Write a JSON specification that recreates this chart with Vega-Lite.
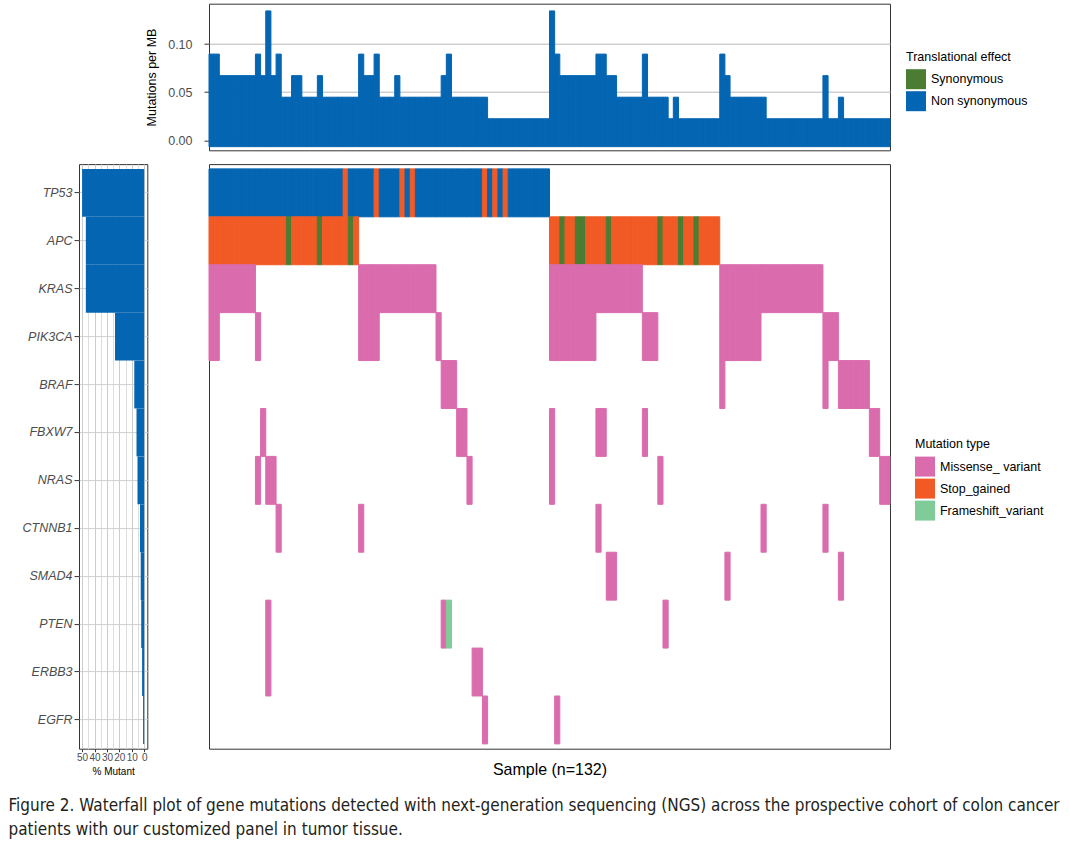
{
"$schema": "https://vega.github.io/schema/vega-lite/v6.json",
"padding": {"left": 8, "top": 2.7, "right": 5, "bottom": 5},
"config": {
  "font": "Liberation Sans",
  "view": {"stroke": "#333333", "strokeWidth": 1},
  "axis": {"labelColor": "#4d4d4d", "titleColor": "#000000", "tickColor": "#333333", "domain": false, "titleFontWeight": "normal"},
  "legend": {"symbolType": "square", "symbolSize": 400, "symbolStrokeWidth": 0, "titleFontSize": 12.5, "titleFontWeight": "normal", "labelFontSize": 12.5, "rowPadding": 2, "labelOffset": 5, "titlePadding": 6, "titleColor": "#000000", "labelColor": "#000000"}
},
"title": {
  "text": ["Figure 2. Waterfall plot of gene mutations detected with next-generation sequencing (NGS) across the prospective cohort of colon cancer", "patients with our customized panel in tumor tissue."],
  "orient": "bottom", "anchor": "start", "frame": "bounds",
  "font": "'Liberation Sans Narrow', 'DejaVu Sans Condensed', sans-serif",
  "fontSize": 17, "fontWeight": "normal", "lineHeight": 24, "offset": 20, "dx": -13, "color": "#231f20"
},
"datasets": {
  "burden": [
    {"s":1,"v":0.0896,"e":"Non synonymous"},{"s":2,"v":0.0896,"e":"Non synonymous"},{"s":3,"v":0.0672,"e":"Non synonymous"},{"s":4,"v":0.0672,"e":"Non synonymous"},
    {"s":5,"v":0.0672,"e":"Non synonymous"},{"s":6,"v":0.0672,"e":"Non synonymous"},{"s":7,"v":0.0672,"e":"Non synonymous"},{"s":8,"v":0.0672,"e":"Non synonymous"},
    {"s":9,"v":0.0672,"e":"Non synonymous"},{"s":10,"v":0.0896,"e":"Non synonymous"},{"s":11,"v":0.0672,"e":"Non synonymous"},{"s":12,"v":0.1345,"e":"Non synonymous"},
    {"s":13,"v":0.0672,"e":"Non synonymous"},{"s":14,"v":0.0896,"e":"Non synonymous"},{"s":15,"v":0.0448,"e":"Non synonymous"},{"s":16,"v":0.0448,"e":"Non synonymous"},
    {"s":17,"v":0.0672,"e":"Non synonymous"},{"s":18,"v":0.0672,"e":"Non synonymous"},{"s":19,"v":0.0448,"e":"Non synonymous"},{"s":20,"v":0.0448,"e":"Non synonymous"},
    {"s":21,"v":0.0448,"e":"Non synonymous"},{"s":22,"v":0.0672,"e":"Non synonymous"},{"s":23,"v":0.0448,"e":"Non synonymous"},{"s":24,"v":0.0448,"e":"Non synonymous"},
    {"s":25,"v":0.0448,"e":"Non synonymous"},{"s":26,"v":0.0448,"e":"Non synonymous"},{"s":27,"v":0.0448,"e":"Non synonymous"},{"s":28,"v":0.0448,"e":"Non synonymous"},
    {"s":29,"v":0.0448,"e":"Non synonymous"},{"s":30,"v":0.0896,"e":"Non synonymous"},{"s":31,"v":0.0672,"e":"Non synonymous"},{"s":32,"v":0.0672,"e":"Non synonymous"},
    {"s":33,"v":0.0896,"e":"Non synonymous"},{"s":34,"v":0.0448,"e":"Non synonymous"},{"s":35,"v":0.0448,"e":"Non synonymous"},{"s":36,"v":0.0448,"e":"Non synonymous"},
    {"s":37,"v":0.0672,"e":"Non synonymous"},{"s":38,"v":0.0448,"e":"Non synonymous"},{"s":39,"v":0.0448,"e":"Non synonymous"},{"s":40,"v":0.0448,"e":"Non synonymous"},
    {"s":41,"v":0.0448,"e":"Non synonymous"},{"s":42,"v":0.0448,"e":"Non synonymous"},{"s":43,"v":0.0448,"e":"Non synonymous"},{"s":44,"v":0.0448,"e":"Non synonymous"},
    {"s":45,"v":0.0448,"e":"Non synonymous"},{"s":46,"v":0.0672,"e":"Non synonymous"},{"s":47,"v":0.0896,"e":"Non synonymous"},{"s":48,"v":0.0448,"e":"Non synonymous"},
    {"s":49,"v":0.0448,"e":"Non synonymous"},{"s":50,"v":0.0448,"e":"Non synonymous"},{"s":51,"v":0.0448,"e":"Non synonymous"},{"s":52,"v":0.0448,"e":"Non synonymous"},
    {"s":53,"v":0.0448,"e":"Non synonymous"},{"s":54,"v":0.0448,"e":"Non synonymous"},{"s":55,"v":0.0224,"e":"Non synonymous"},{"s":56,"v":0.0224,"e":"Non synonymous"},
    {"s":57,"v":0.0224,"e":"Non synonymous"},{"s":58,"v":0.0224,"e":"Non synonymous"},{"s":59,"v":0.0224,"e":"Non synonymous"},{"s":60,"v":0.0224,"e":"Non synonymous"},
    {"s":61,"v":0.0224,"e":"Non synonymous"},{"s":62,"v":0.0224,"e":"Non synonymous"},{"s":63,"v":0.0224,"e":"Non synonymous"},{"s":64,"v":0.0224,"e":"Non synonymous"},
    {"s":65,"v":0.0224,"e":"Non synonymous"},{"s":66,"v":0.0224,"e":"Non synonymous"},{"s":67,"v":0.1345,"e":"Non synonymous"},{"s":68,"v":0.0896,"e":"Non synonymous"},
    {"s":69,"v":0.0672,"e":"Non synonymous"},{"s":70,"v":0.0672,"e":"Non synonymous"},{"s":71,"v":0.0672,"e":"Non synonymous"},{"s":72,"v":0.0672,"e":"Non synonymous"},
    {"s":73,"v":0.0672,"e":"Non synonymous"},{"s":74,"v":0.0672,"e":"Non synonymous"},{"s":75,"v":0.0672,"e":"Non synonymous"},{"s":76,"v":0.0896,"e":"Non synonymous"},
    {"s":77,"v":0.0896,"e":"Non synonymous"},{"s":78,"v":0.0672,"e":"Non synonymous"},{"s":79,"v":0.0672,"e":"Non synonymous"},{"s":80,"v":0.0448,"e":"Non synonymous"},
    {"s":81,"v":0.0448,"e":"Non synonymous"},{"s":82,"v":0.0448,"e":"Non synonymous"},{"s":83,"v":0.0448,"e":"Non synonymous"},{"s":84,"v":0.0448,"e":"Non synonymous"},
    {"s":85,"v":0.0896,"e":"Non synonymous"},{"s":86,"v":0.0448,"e":"Non synonymous"},{"s":87,"v":0.0448,"e":"Non synonymous"},{"s":88,"v":0.0448,"e":"Non synonymous"},
    {"s":89,"v":0.0448,"e":"Non synonymous"},{"s":90,"v":0.0224,"e":"Non synonymous"},{"s":91,"v":0.0448,"e":"Non synonymous"},{"s":92,"v":0.0224,"e":"Non synonymous"},
    {"s":93,"v":0.0224,"e":"Non synonymous"},{"s":94,"v":0.0224,"e":"Non synonymous"},{"s":95,"v":0.0224,"e":"Non synonymous"},{"s":96,"v":0.0224,"e":"Non synonymous"},
    {"s":97,"v":0.0224,"e":"Non synonymous"},{"s":98,"v":0.0224,"e":"Non synonymous"},{"s":99,"v":0.0224,"e":"Non synonymous"},{"s":100,"v":0.0896,"e":"Non synonymous"},
    {"s":101,"v":0.0672,"e":"Non synonymous"},{"s":102,"v":0.0448,"e":"Non synonymous"},{"s":103,"v":0.0448,"e":"Non synonymous"},{"s":104,"v":0.0448,"e":"Non synonymous"},
    {"s":105,"v":0.0448,"e":"Non synonymous"},{"s":106,"v":0.0448,"e":"Non synonymous"},{"s":107,"v":0.0448,"e":"Non synonymous"},{"s":108,"v":0.0448,"e":"Non synonymous"},
    {"s":109,"v":0.0224,"e":"Non synonymous"},{"s":110,"v":0.0224,"e":"Non synonymous"},{"s":111,"v":0.0224,"e":"Non synonymous"},{"s":112,"v":0.0224,"e":"Non synonymous"},
    {"s":113,"v":0.0224,"e":"Non synonymous"},{"s":114,"v":0.0224,"e":"Non synonymous"},{"s":115,"v":0.0224,"e":"Non synonymous"},{"s":116,"v":0.0224,"e":"Non synonymous"},
    {"s":117,"v":0.0224,"e":"Non synonymous"},{"s":118,"v":0.0224,"e":"Non synonymous"},{"s":119,"v":0.0224,"e":"Non synonymous"},{"s":120,"v":0.0672,"e":"Non synonymous"},
    {"s":121,"v":0.0224,"e":"Non synonymous"},{"s":122,"v":0.0224,"e":"Non synonymous"},{"s":123,"v":0.0448,"e":"Non synonymous"},{"s":124,"v":0.0224,"e":"Non synonymous"},
    {"s":125,"v":0.0224,"e":"Non synonymous"},{"s":126,"v":0.0224,"e":"Non synonymous"},{"s":127,"v":0.0224,"e":"Non synonymous"},{"s":128,"v":0.0224,"e":"Non synonymous"},
    {"s":129,"v":0.0224,"e":"Non synonymous"},{"s":130,"v":0.0224,"e":"Non synonymous"},{"s":131,"v":0.0224,"e":"Non synonymous"},{"s":132,"v":0.0224,"e":"Non synonymous"}
  ],
  "pct": [
    {"g":"TP53","p":50.0},{"g":"APC","p":47.0},{"g":"KRAS","p":47.0},{"g":"PIK3CA","p":23.5},
    {"g":"BRAF","p":8.0},{"g":"FBXW7","p":6.2},{"g":"NRAS","p":5.4},{"g":"CTNNB1","p":3.4},
    {"g":"SMAD4","p":2.8},{"g":"PTEN","p":2.4},{"g":"ERBB3","p":1.7},{"g":"EGFR","p":0.9}
  ],
  "cells": [
    {"s":1,"g":"TP53","t":"Non synonymous"},{"s":2,"g":"TP53","t":"Non synonymous"},{"s":3,"g":"TP53","t":"Non synonymous"},{"s":4,"g":"TP53","t":"Non synonymous"},
    {"s":5,"g":"TP53","t":"Non synonymous"},{"s":6,"g":"TP53","t":"Non synonymous"},{"s":7,"g":"TP53","t":"Non synonymous"},{"s":8,"g":"TP53","t":"Non synonymous"},
    {"s":9,"g":"TP53","t":"Non synonymous"},{"s":10,"g":"TP53","t":"Non synonymous"},{"s":11,"g":"TP53","t":"Non synonymous"},{"s":12,"g":"TP53","t":"Non synonymous"},
    {"s":13,"g":"TP53","t":"Non synonymous"},{"s":14,"g":"TP53","t":"Non synonymous"},{"s":15,"g":"TP53","t":"Non synonymous"},{"s":16,"g":"TP53","t":"Non synonymous"},
    {"s":17,"g":"TP53","t":"Non synonymous"},{"s":18,"g":"TP53","t":"Non synonymous"},{"s":19,"g":"TP53","t":"Non synonymous"},{"s":20,"g":"TP53","t":"Non synonymous"},
    {"s":21,"g":"TP53","t":"Non synonymous"},{"s":22,"g":"TP53","t":"Non synonymous"},{"s":23,"g":"TP53","t":"Non synonymous"},{"s":24,"g":"TP53","t":"Non synonymous"},
    {"s":25,"g":"TP53","t":"Non synonymous"},{"s":26,"g":"TP53","t":"Non synonymous"},{"s":27,"g":"TP53","t":"Stop_gained"},{"s":28,"g":"TP53","t":"Non synonymous"},
    {"s":29,"g":"TP53","t":"Non synonymous"},{"s":30,"g":"TP53","t":"Non synonymous"},{"s":31,"g":"TP53","t":"Non synonymous"},{"s":32,"g":"TP53","t":"Non synonymous"},
    {"s":33,"g":"TP53","t":"Stop_gained"},{"s":34,"g":"TP53","t":"Non synonymous"},{"s":35,"g":"TP53","t":"Non synonymous"},{"s":36,"g":"TP53","t":"Non synonymous"},
    {"s":37,"g":"TP53","t":"Non synonymous"},{"s":38,"g":"TP53","t":"Stop_gained"},{"s":39,"g":"TP53","t":"Non synonymous"},{"s":40,"g":"TP53","t":"Stop_gained"},
    {"s":41,"g":"TP53","t":"Non synonymous"},{"s":42,"g":"TP53","t":"Non synonymous"},{"s":43,"g":"TP53","t":"Non synonymous"},{"s":44,"g":"TP53","t":"Non synonymous"},
    {"s":45,"g":"TP53","t":"Non synonymous"},{"s":46,"g":"TP53","t":"Non synonymous"},{"s":47,"g":"TP53","t":"Non synonymous"},{"s":48,"g":"TP53","t":"Non synonymous"},
    {"s":49,"g":"TP53","t":"Non synonymous"},{"s":50,"g":"TP53","t":"Non synonymous"},{"s":51,"g":"TP53","t":"Non synonymous"},{"s":52,"g":"TP53","t":"Non synonymous"},
    {"s":53,"g":"TP53","t":"Non synonymous"},{"s":54,"g":"TP53","t":"Stop_gained"},{"s":55,"g":"TP53","t":"Non synonymous"},{"s":56,"g":"TP53","t":"Stop_gained"},
    {"s":57,"g":"TP53","t":"Non synonymous"},{"s":58,"g":"TP53","t":"Stop_gained"},{"s":59,"g":"TP53","t":"Non synonymous"},{"s":60,"g":"TP53","t":"Non synonymous"},
    {"s":61,"g":"TP53","t":"Non synonymous"},{"s":62,"g":"TP53","t":"Non synonymous"},{"s":63,"g":"TP53","t":"Non synonymous"},{"s":64,"g":"TP53","t":"Non synonymous"},
    {"s":65,"g":"TP53","t":"Non synonymous"},{"s":66,"g":"TP53","t":"Non synonymous"},

    {"s":1,"g":"APC","t":"Stop_gained"},{"s":2,"g":"APC","t":"Stop_gained"},{"s":3,"g":"APC","t":"Stop_gained"},{"s":4,"g":"APC","t":"Stop_gained"},
    {"s":5,"g":"APC","t":"Stop_gained"},{"s":6,"g":"APC","t":"Stop_gained"},{"s":7,"g":"APC","t":"Stop_gained"},{"s":8,"g":"APC","t":"Stop_gained"},
    {"s":9,"g":"APC","t":"Stop_gained"},{"s":10,"g":"APC","t":"Stop_gained"},{"s":11,"g":"APC","t":"Stop_gained"},{"s":12,"g":"APC","t":"Stop_gained"},
    {"s":13,"g":"APC","t":"Stop_gained"},{"s":14,"g":"APC","t":"Stop_gained"},{"s":15,"g":"APC","t":"Stop_gained"},{"s":16,"g":"APC","t":"Synonymous"},
    {"s":17,"g":"APC","t":"Stop_gained"},{"s":18,"g":"APC","t":"Stop_gained"},{"s":19,"g":"APC","t":"Stop_gained"},{"s":20,"g":"APC","t":"Stop_gained"},
    {"s":21,"g":"APC","t":"Stop_gained"},{"s":22,"g":"APC","t":"Synonymous"},{"s":23,"g":"APC","t":"Stop_gained"},{"s":24,"g":"APC","t":"Stop_gained"},
    {"s":25,"g":"APC","t":"Stop_gained"},{"s":26,"g":"APC","t":"Stop_gained"},{"s":27,"g":"APC","t":"Stop_gained"},{"s":28,"g":"APC","t":"Synonymous"},
    {"s":29,"g":"APC","t":"Stop_gained"},
    {"s":67,"g":"APC","t":"Stop_gained"},{"s":68,"g":"APC","t":"Stop_gained"},{"s":69,"g":"APC","t":"Synonymous"},{"s":70,"g":"APC","t":"Stop_gained"},
    {"s":71,"g":"APC","t":"Stop_gained"},{"s":72,"g":"APC","t":"Synonymous"},{"s":73,"g":"APC","t":"Synonymous"},{"s":74,"g":"APC","t":"Stop_gained"},
    {"s":75,"g":"APC","t":"Stop_gained"},{"s":76,"g":"APC","t":"Stop_gained"},{"s":77,"g":"APC","t":"Stop_gained"},{"s":78,"g":"APC","t":"Synonymous"},
    {"s":79,"g":"APC","t":"Stop_gained"},{"s":80,"g":"APC","t":"Stop_gained"},{"s":81,"g":"APC","t":"Stop_gained"},{"s":82,"g":"APC","t":"Stop_gained"},
    {"s":83,"g":"APC","t":"Stop_gained"},{"s":84,"g":"APC","t":"Stop_gained"},{"s":85,"g":"APC","t":"Stop_gained"},{"s":86,"g":"APC","t":"Stop_gained"},
    {"s":87,"g":"APC","t":"Stop_gained"},{"s":88,"g":"APC","t":"Synonymous"},{"s":89,"g":"APC","t":"Stop_gained"},{"s":90,"g":"APC","t":"Stop_gained"},
    {"s":91,"g":"APC","t":"Stop_gained"},{"s":92,"g":"APC","t":"Synonymous"},{"s":93,"g":"APC","t":"Stop_gained"},{"s":94,"g":"APC","t":"Stop_gained"},
    {"s":95,"g":"APC","t":"Synonymous"},{"s":96,"g":"APC","t":"Stop_gained"},{"s":97,"g":"APC","t":"Stop_gained"},{"s":98,"g":"APC","t":"Stop_gained"},
    {"s":99,"g":"APC","t":"Stop_gained"},

    {"s":1,"g":"KRAS","t":"Missense_ variant"},{"s":2,"g":"KRAS","t":"Missense_ variant"},{"s":3,"g":"KRAS","t":"Missense_ variant"},{"s":4,"g":"KRAS","t":"Missense_ variant"},
    {"s":5,"g":"KRAS","t":"Missense_ variant"},{"s":6,"g":"KRAS","t":"Missense_ variant"},{"s":7,"g":"KRAS","t":"Missense_ variant"},{"s":8,"g":"KRAS","t":"Missense_ variant"},
    {"s":9,"g":"KRAS","t":"Missense_ variant"},
    {"s":30,"g":"KRAS","t":"Missense_ variant"},{"s":31,"g":"KRAS","t":"Missense_ variant"},{"s":32,"g":"KRAS","t":"Missense_ variant"},{"s":33,"g":"KRAS","t":"Missense_ variant"},
    {"s":34,"g":"KRAS","t":"Missense_ variant"},{"s":35,"g":"KRAS","t":"Missense_ variant"},{"s":36,"g":"KRAS","t":"Missense_ variant"},{"s":37,"g":"KRAS","t":"Missense_ variant"},
    {"s":38,"g":"KRAS","t":"Missense_ variant"},{"s":39,"g":"KRAS","t":"Missense_ variant"},{"s":40,"g":"KRAS","t":"Missense_ variant"},{"s":41,"g":"KRAS","t":"Missense_ variant"},
    {"s":42,"g":"KRAS","t":"Missense_ variant"},{"s":43,"g":"KRAS","t":"Missense_ variant"},{"s":44,"g":"KRAS","t":"Missense_ variant"},
    {"s":67,"g":"KRAS","t":"Missense_ variant"},{"s":68,"g":"KRAS","t":"Missense_ variant"},{"s":69,"g":"KRAS","t":"Missense_ variant"},{"s":70,"g":"KRAS","t":"Missense_ variant"},
    {"s":71,"g":"KRAS","t":"Missense_ variant"},{"s":72,"g":"KRAS","t":"Missense_ variant"},{"s":73,"g":"KRAS","t":"Missense_ variant"},{"s":74,"g":"KRAS","t":"Missense_ variant"},
    {"s":75,"g":"KRAS","t":"Missense_ variant"},{"s":76,"g":"KRAS","t":"Missense_ variant"},{"s":77,"g":"KRAS","t":"Missense_ variant"},{"s":78,"g":"KRAS","t":"Missense_ variant"},
    {"s":79,"g":"KRAS","t":"Missense_ variant"},{"s":80,"g":"KRAS","t":"Missense_ variant"},{"s":81,"g":"KRAS","t":"Missense_ variant"},{"s":82,"g":"KRAS","t":"Missense_ variant"},
    {"s":83,"g":"KRAS","t":"Missense_ variant"},{"s":84,"g":"KRAS","t":"Missense_ variant"},
    {"s":100,"g":"KRAS","t":"Missense_ variant"},{"s":101,"g":"KRAS","t":"Missense_ variant"},{"s":102,"g":"KRAS","t":"Missense_ variant"},{"s":103,"g":"KRAS","t":"Missense_ variant"},
    {"s":104,"g":"KRAS","t":"Missense_ variant"},{"s":105,"g":"KRAS","t":"Missense_ variant"},{"s":106,"g":"KRAS","t":"Missense_ variant"},{"s":107,"g":"KRAS","t":"Missense_ variant"},
    {"s":108,"g":"KRAS","t":"Missense_ variant"},{"s":109,"g":"KRAS","t":"Missense_ variant"},{"s":110,"g":"KRAS","t":"Missense_ variant"},{"s":111,"g":"KRAS","t":"Missense_ variant"},
    {"s":112,"g":"KRAS","t":"Missense_ variant"},{"s":113,"g":"KRAS","t":"Missense_ variant"},{"s":114,"g":"KRAS","t":"Missense_ variant"},{"s":115,"g":"KRAS","t":"Missense_ variant"},
    {"s":116,"g":"KRAS","t":"Missense_ variant"},{"s":117,"g":"KRAS","t":"Missense_ variant"},{"s":118,"g":"KRAS","t":"Missense_ variant"},{"s":119,"g":"KRAS","t":"Missense_ variant"},

    {"s":1,"g":"PIK3CA","t":"Missense_ variant"},{"s":2,"g":"PIK3CA","t":"Missense_ variant"},{"s":10,"g":"PIK3CA","t":"Missense_ variant"},
    {"s":30,"g":"PIK3CA","t":"Missense_ variant"},{"s":31,"g":"PIK3CA","t":"Missense_ variant"},{"s":32,"g":"PIK3CA","t":"Missense_ variant"},{"s":33,"g":"PIK3CA","t":"Missense_ variant"},
    {"s":45,"g":"PIK3CA","t":"Missense_ variant"},
    {"s":67,"g":"PIK3CA","t":"Missense_ variant"},{"s":68,"g":"PIK3CA","t":"Missense_ variant"},{"s":69,"g":"PIK3CA","t":"Missense_ variant"},{"s":70,"g":"PIK3CA","t":"Missense_ variant"},
    {"s":71,"g":"PIK3CA","t":"Missense_ variant"},{"s":72,"g":"PIK3CA","t":"Missense_ variant"},{"s":73,"g":"PIK3CA","t":"Missense_ variant"},{"s":74,"g":"PIK3CA","t":"Missense_ variant"},
    {"s":75,"g":"PIK3CA","t":"Missense_ variant"},
    {"s":85,"g":"PIK3CA","t":"Missense_ variant"},{"s":86,"g":"PIK3CA","t":"Missense_ variant"},{"s":87,"g":"PIK3CA","t":"Missense_ variant"},
    {"s":100,"g":"PIK3CA","t":"Missense_ variant"},{"s":101,"g":"PIK3CA","t":"Missense_ variant"},{"s":102,"g":"PIK3CA","t":"Missense_ variant"},{"s":103,"g":"PIK3CA","t":"Missense_ variant"},
    {"s":104,"g":"PIK3CA","t":"Missense_ variant"},{"s":105,"g":"PIK3CA","t":"Missense_ variant"},{"s":106,"g":"PIK3CA","t":"Missense_ variant"},{"s":107,"g":"PIK3CA","t":"Missense_ variant"},
    {"s":120,"g":"PIK3CA","t":"Missense_ variant"},{"s":121,"g":"PIK3CA","t":"Missense_ variant"},{"s":122,"g":"PIK3CA","t":"Missense_ variant"},

    {"s":46,"g":"BRAF","t":"Missense_ variant"},{"s":47,"g":"BRAF","t":"Missense_ variant"},{"s":48,"g":"BRAF","t":"Missense_ variant"},
    {"s":100,"g":"BRAF","t":"Missense_ variant"},{"s":120,"g":"BRAF","t":"Missense_ variant"},
    {"s":123,"g":"BRAF","t":"Missense_ variant"},{"s":124,"g":"BRAF","t":"Missense_ variant"},{"s":125,"g":"BRAF","t":"Missense_ variant"},{"s":126,"g":"BRAF","t":"Missense_ variant"},
    {"s":127,"g":"BRAF","t":"Missense_ variant"},{"s":128,"g":"BRAF","t":"Missense_ variant"},

    {"s":11,"g":"FBXW7","t":"Missense_ variant"},{"s":49,"g":"FBXW7","t":"Missense_ variant"},{"s":50,"g":"FBXW7","t":"Missense_ variant"},{"s":67,"g":"FBXW7","t":"Missense_ variant"},
    {"s":76,"g":"FBXW7","t":"Missense_ variant"},{"s":77,"g":"FBXW7","t":"Missense_ variant"},{"s":85,"g":"FBXW7","t":"Missense_ variant"},{"s":129,"g":"FBXW7","t":"Missense_ variant"},
    {"s":130,"g":"FBXW7","t":"Missense_ variant"},

    {"s":10,"g":"NRAS","t":"Missense_ variant"},{"s":12,"g":"NRAS","t":"Missense_ variant"},{"s":13,"g":"NRAS","t":"Missense_ variant"},{"s":51,"g":"NRAS","t":"Missense_ variant"},
    {"s":67,"g":"NRAS","t":"Missense_ variant"},{"s":88,"g":"NRAS","t":"Missense_ variant"},{"s":131,"g":"NRAS","t":"Missense_ variant"},{"s":132,"g":"NRAS","t":"Missense_ variant"},

    {"s":14,"g":"CTNNB1","t":"Missense_ variant"},{"s":30,"g":"CTNNB1","t":"Missense_ variant"},{"s":76,"g":"CTNNB1","t":"Missense_ variant"},{"s":108,"g":"CTNNB1","t":"Missense_ variant"},
    {"s":120,"g":"CTNNB1","t":"Missense_ variant"},

    {"s":78,"g":"SMAD4","t":"Missense_ variant"},{"s":79,"g":"SMAD4","t":"Missense_ variant"},{"s":101,"g":"SMAD4","t":"Missense_ variant"},{"s":123,"g":"SMAD4","t":"Missense_ variant"},

    {"s":12,"g":"PTEN","t":"Missense_ variant"},{"s":46,"g":"PTEN","t":"Missense_ variant"},{"s":47,"g":"PTEN","t":"Frameshift_variant"},{"s":89,"g":"PTEN","t":"Missense_ variant"},

    {"s":12,"g":"ERBB3","t":"Missense_ variant"},{"s":52,"g":"ERBB3","t":"Missense_ variant"},{"s":53,"g":"ERBB3","t":"Missense_ variant"},

    {"s":54,"g":"EGFR","t":"Missense_ variant"},{"s":68,"g":"EGFR","t":"Missense_ variant"}
  ]
},
"columns": 2,
"bounds": "flush",
"spacing": {"row": 13.4, "column": 61},
"resolve": {"scale": {"color": "independent", "x": "independent", "y": "independent"}, "legend": {"color": "independent"}},
"concat": [
  {
    "width": 1, "height": 1,
    "data": {"values": []},
    "mark": {"type": "point", "opacity": 0},
    "view": {"stroke": null}
  },
  {
    "width": 681, "height": 146.6,
    "data": {"name": "burden"},
    "mark": {"type": "bar", "stroke": "#0465b2", "strokeWidth": 1},
    "encoding": {
      "x": {"field": "s", "type": "ordinal", "scale": {"paddingInner": 0, "paddingOuter": 0}, "axis": null},
      "y": {"field": "v", "type": "quantitative", "scale": {"domain": [-0.0104, 0.142], "nice": false, "zero": false},
            "axis": {"values": [0, 0.05, 0.1], "format": ".2f", "title": "Mutations per MB", "titleFontSize": 12.5, "labelFontSize": 12.5,
                     "tickSize": 5, "labelPadding": 12, "titlePadding": 9, "grid": true, "gridColor": "#b8b8b8", "gridWidth": 1}},
      "y2": {"datum": -0.0066},
      "color": {"field": "e", "type": "nominal",
                "scale": {"domain": ["Synonymous", "Non synonymous"], "range": ["#4a7d31", "#0465b2"]},
                "legend": {"title": "Translational effect", "orient": "none", "legendX": 697, "legendY": 47}}
    }
  },
  {
    "width": 68.3, "height": 584.6,
    "data": {"name": "pct"},
    "mark": {"type": "bar", "color": "#0465b2"},
    "encoding": {
      "y": {"field": "g", "type": "nominal",
            "scale": {"domain": ["TP53","APC","KRAS","PIK3CA","BRAF","FBXW7","NRAS","CTNNB1","SMAD4","PTEN","ERBB3","EGFR"], "paddingInner": 0, "paddingOuter": 0.1},
            "axis": {"title": null, "labelFontStyle": "italic", "labelFontSize": 12.5, "tickSize": 5, "labelPadding": 2, "grid": true, "gridColor": "#d0d0d0"}},
      "x": {"field": "p", "type": "quantitative", "scale": {"domain": [-2.5, 52.5], "reverse": true, "nice": false, "zero": false},
            "axis": {"values": [0,5,10,15,20,25,30,35,40,45,50], "labelExpr": "datum.value % 10 === 0 ? datum.label : ''",
                     "tickOpacity": {"condition": {"test": "datum.value % 10 === 0", "value": 1}, "value": 0},
                     "gridColor": {"condition": {"test": "datum.value % 10 === 0", "value": "#cccccc"}, "value": "#dedede"},
                     "grid": true, "labelOverlap": false, "labelFlush": false, "labelFontSize": 10, "tickSize": 3, "labelPadding": 1,
                     "title": "% Mutant", "titleFontSize": 10, "titlePadding": 4}},
      "x2": {"datum": 0}
    }
  },
  {
    "width": 681, "height": 584.6,
    "data": {"name": "cells"},
    "mark": {"type": "rect", "strokeWidth": 1},
    "encoding": {
      "x": {"field": "s", "type": "ordinal", "scale": {"paddingInner": 0, "paddingOuter": 0},
            "axis": {"title": "Sample (n=132)", "labels": false, "ticks": false, "domain": false, "grid": false, "titleFontSize": 16, "titlePadding": 13}},
      "y": {"field": "g", "type": "nominal",
            "scale": {"domain": ["TP53","APC","KRAS","PIK3CA","BRAF","FBXW7","NRAS","CTNNB1","SMAD4","PTEN","ERBB3","EGFR"], "paddingInner": 0, "paddingOuter": 0.1},
            "axis": null},
      "color": {"field": "t", "type": "nominal",
                "scale": {"domain": ["Missense_ variant", "Stop_gained", "Frameshift_variant", "Synonymous", "Non synonymous"],
                          "range": ["#da6cad", "#f15a24", "#7fcc99", "#4a7d31", "#0465b2"]},
                "legend": {"title": "Mutation type", "values": ["Missense_ variant", "Stop_gained", "Frameshift_variant"], "orient": "none", "legendX": 706, "legendY": 274}},
      "stroke": {"field": "t", "type": "nominal",
                 "scale": {"domain": ["Missense_ variant", "Stop_gained", "Frameshift_variant", "Synonymous", "Non synonymous"],
                           "range": ["#da6cad", "#f15a24", "#7fcc99", "#4a7d31", "#0465b2"]},
                 "legend": null}
    }
  }
]
}
